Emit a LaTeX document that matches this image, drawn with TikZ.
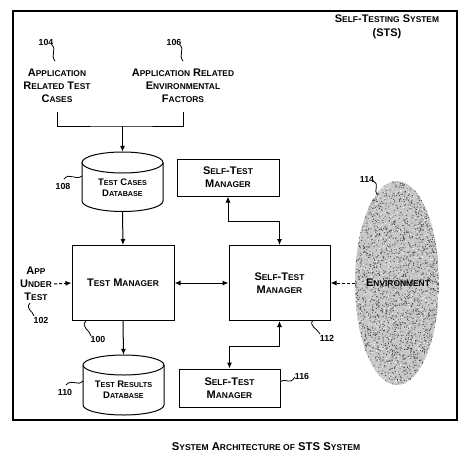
\documentclass[tikz,border=0pt]{standalone}
\usepackage{fontspec}
\setmainfont{Liberation Sans}
\usetikzlibrary{arrows.meta,shapes.geometric}
\def\smallsz{8.4}
\newcommand\Sm[1]{{\fontsize{\smallsz}{\smallsz}\selectfont #1}}
\begin{document}
\begin{tikzpicture}[x=1pt,y=-1pt,
  font=\fontsize{11}{13}\selectfont\bfseries,
  lw/.style={line width=1pt},
  box/.style={draw, lw, fill=white, align=center, inner sep=0},
  txt/.style={align=center, inner sep=2pt},
  dbtxt/.style={align=center, inner sep=0, font=\fontsize{9.5}{11}\selectfont\bfseries\def\smallsz{7.2}},
  num/.style={font=\fontsize{8.8}{10}\selectfont\bfseries, inner sep=0},
  arr/.style={lw, -{Latex[length=6pt,width=5pt]}},
  barr/.style={lw, {Latex[length=6pt,width=5pt]}-{Latex[length=6pt,width=5pt]}},
  darr/.style={lw, dash pattern=on 3pt off 2pt, -{Latex[length=6pt,width=5pt]}},
  lead/.style={line width=0.8pt}]
\useasboundingbox (0,0) rectangle (474,464);
% frame
\draw[line width=1.2pt] (13,11) rectangle (457,420);
% title
\node[txt, font=\fontsize{11}{14}\selectfont\bfseries] (title) at (387,27) {S\Sm{ELF}-T\Sm{ESTING} S\Sm{YSTEM}\\(STS)};
% inputs
\node[txt] (atc) at (57,86) {A\Sm{PPLICATION}\\R\Sm{ELATED} T\Sm{EST}\\C\Sm{ASES}};
\node[txt] (aef) at (183,86) {A\Sm{PPLICATION} R\Sm{ELATED}\\E\Sm{NVIRONMENTAL}\\F\Sm{ACTORS}};
\coordinate (a1) at (57,112);
\coordinate (a2) at (183,112);
\coordinate (merge) at (122.5,126);
% test cases database
\node[minimum width=81pt, minimum height=60pt, inner sep=0] (tcdb) at (122.5,182) {};
\draw[lw, fill=white] (82,162.5) -- (82,201) arc[start angle=180, end angle=0, x radius=40.5, y radius=10.5] -- (163,162.5);
\draw[lw] (122.5,162.5) ellipse [x radius=40.5, y radius=10.5];
\node[dbtxt] (tctxt) at (122.5,187.5) {T\Sm{EST} C\Sm{ASES}\\D\Sm{ATABASE}};
% test results database
\node[minimum width=81pt, minimum height=60pt, inner sep=0] (trdb) at (123.5,385) {};
\draw[lw, fill=white] (83,365) -- (83,405) arc[start angle=180, end angle=0, x radius=40.5, y radius=10] -- (164,365);
\draw[lw] (123.5,365) ellipse [x radius=40.5, y radius=10];
\node[dbtxt] (trtxt) at (123.5,390) {T\Sm{EST} R\Sm{ESULTS}\\D\Sm{ATABASE}};
% boxes
\node[box, minimum width=102pt, minimum height=37pt] (stm1) at (228,177.5) {S\Sm{ELF}-T\Sm{EST}\\M\Sm{ANAGER}};
\node[box, minimum width=102pt, minimum height=75pt] (tm) at (123,283) {T\Sm{EST} M\Sm{ANAGER}};
\node[box, minimum width=101pt, minimum height=75pt] (stm) at (279.5,283) {S\Sm{ELF}-T\Sm{EST}\\M\Sm{ANAGER}};
\node[box, minimum width=101pt, minimum height=38pt] (stm2) at (229.5,388) {S\Sm{ELF}-T\Sm{EST}\\M\Sm{ANAGER}};
% app under test
\node[txt] (app) at (36,284) {A\Sm{PP}\\U\Sm{NDER}\\T\Sm{EST}};
% environment
\node[ellipse, minimum width=84pt, minimum height=204pt, inner sep=0] (env) at (397,283) {};
\begin{scope}
  \clip (397,283) ellipse [x radius=42, y radius=102];
  \fill[black!22] (355,181) rectangle (439,385);
  \pgfmathsetseed{11}
  \foreach \i in {1,...,2600}{
    \fill[black!75] (397+42*rand,283+102*rand) circle (0.55pt);
  }
  \foreach \i in {1,...,1200}{
    \fill[white] (397+42*rand,283+102*rand) circle (0.5pt);
  }
\end{scope}
\node[txt] (envtxt) at (398,283) {E\Sm{NVIRONMENT}};
% caption
\node[txt, font=\fontsize{11.3}{13}\selectfont\bfseries\def\smallsz{8.5}] (cap) at (266,447) {S\Sm{YSTEM} A\Sm{RCHITECTURE OF} STS S\Sm{YSTEM}};
% connectors
\draw[lw] (a1) |- (merge) -| (a2);
\draw[arr] (merge) -- (tcdb.north);
\draw[arr] (tcdb.south) -- (tm.north);
\draw[arr] (tm.south) -- (trdb.north);
\draw[barr] (tm.east) -- (stm.west);
\draw[barr] (stm1.south) -- ++(0,25) -| (stm.north);
\draw[barr] (stm.south) -- ++(0,25) -| (stm2.north);
\draw[darr] (app.east) -- (tm.west);
\draw[darr] (env.west) -- (stm.east);
% reference numerals
\node[num] (n104) at (46,42) {104};
\draw[lead] (52,45) .. controls (57,50) and (50,55) .. (55,61);
\node[num] (n106) at (174,42) {106};
\draw[lead] (180,45) .. controls (185,50) and (178,55) .. (183,61);
\node[num] (n108) at (63,186) {108};
\draw[lead] (64,179) .. controls (70,172) and (75,181) .. (82,176);
\node[num] (n110) at (65,392) {110};
\draw[lead] (66,385) .. controls (72,378) and (77,387) .. (83,381);
\node[num] (n100) at (98,339) {100};
\draw[lead] (86,321) .. controls (80,327) and (90,330) .. (91,336);
\node[num] (n102) at (41,320) {102};
\draw[lead] (30,303) .. controls (25,309) and (33,311) .. (34,316);
\node[num] (n112) at (327,338) {112};
\draw[lead] (313,320) .. controls (308,326) and (318,329) .. (320,334);
\node[num] (n114) at (367,179) {114};
\draw[lead] (373,181) .. controls (381,185) and (372,190) .. (378,195);
\node[num] (n116) at (302,376) {116};
\draw[lead] (280,382) .. controls (287,377) and (289,386) .. (295,377);
\end{tikzpicture}
\end{document}
